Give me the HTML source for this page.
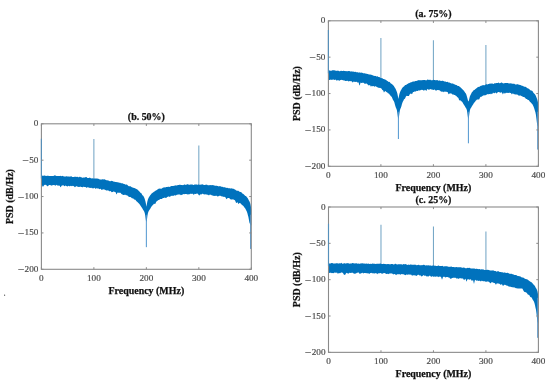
<!DOCTYPE html><html><head><meta charset="utf-8"><style>html,body{margin:0;padding:0;background:#fff;}svg{display:block;filter:blur(0.3px);}</style></head><body>
<svg width="550" height="384" viewBox="0 0 550 384">
<style>.tk{font-family:"Liberation Serif",serif;font-size:9.2px;fill:#4a4a4a;stroke:#4a4a4a;stroke-width:0.18px}.mn{font-size:11.8px;stroke-width:0.1px}.lb{font-family:"Liberation Serif",serif;font-size:9.95px;font-weight:bold;fill:#111;stroke:#111;stroke-width:0.25px}</style>
<rect width="550" height="384" fill="#fff"/>
<line x1="380.9" y1="38.11" x2="380.9" y2="80.88" stroke="#74a6c6" stroke-width="1.05"/>
<line x1="433.4" y1="40.15" x2="433.4" y2="82.94" stroke="#74a6c6" stroke-width="1.05"/>
<line x1="485.9" y1="44.95" x2="485.9" y2="87.45" stroke="#74a6c6" stroke-width="1.05"/>
<path d="M328.4,70.39 L328.9,70.35 L329.4,70.44 L329.9,70.57 L330.4,70.72 L330.9,70.83 L331.4,70.66 L331.9,70.46 L332.4,70.35 L332.9,70.23 L333.4,70.28 L333.9,70.27 L334.4,70.26 L334.9,70.52 L335.4,70.65 L335.9,70.53 L336.4,70.67 L336.9,70.92 L337.4,70.79 L337.9,70.58 L338.4,70.67 L338.9,71.04 L339.4,71.27 L339.9,71.14 L340.4,70.99 L340.9,70.77 L341.4,70.69 L341.9,70.96 L342.4,71.12 L342.9,70.98 L343.4,70.71 L343.9,70.69 L344.4,70.91 L344.9,70.97 L345.4,71.09 L345.9,71.31 L346.4,71.16 L346.9,71.08 L347.4,71.27 L347.9,71.21 L348.4,71.04 L348.9,71.02 L349.4,71.1 L349.9,71.33 L350.4,71.5 L350.9,71.51 L351.4,71.46 L351.9,71.26 L352.4,71.4 L352.9,71.68 L353.4,71.6 L353.9,71.7 L354.4,71.88 L354.9,71.78 L355.4,71.82 L355.9,72.02 L356.4,72.14 L356.9,72.17 L357.4,72.21 L357.9,72.37 L358.4,72.55 L358.9,72.7 L359.4,72.55 L359.9,72.36 L360.4,72.7 L360.9,72.82 L361.4,72.57 L361.9,72.74 L362.4,72.88 L362.9,72.83 L363.4,73.15 L363.9,73.45 L364.4,73.27 L364.9,73.2 L365.4,73.47 L365.9,73.64 L366.4,73.69 L366.9,73.8 L367.4,73.89 L367.9,73.97 L368.4,74.27 L368.9,74.47 L369.4,74.46 L369.9,74.5 L370.4,74.61 L370.9,74.73 L371.4,74.76 L371.9,74.92 L372.4,75.24 L372.9,75.35 L373.4,75.48 L373.9,75.88 L374.4,75.98 L374.9,75.83 L375.4,75.94 L375.9,76.11 L376.4,76.39 L376.9,76.42 L377.4,76.16 L377.9,76.46 L378.4,76.88 L378.9,76.88 L379.4,77.02 L379.9,77.48 L380.4,77.75 L380.9,77.94 L381.4,78.14 L381.9,78.11 L382.4,78.25 L382.9,78.64 L383.4,78.91 L383.9,79.05 L384.4,79.26 L384.9,79.56 L385.4,79.63 L385.9,79.69 L386.4,80.16 L386.9,80.69 L387.4,80.96 L387.9,81.23 L388.4,81.74 L388.9,81.95 L389.4,81.82 L389.9,82.28 L390.4,83.03 L390.9,83.46 L391.4,83.73 L391.9,84.04 L392.4,84.6 L392.9,85.12 L393.4,85.41 L393.9,86.01 L394.4,86.89 L394.9,87.79 L395.4,88.6 L395.9,89.59 L396.4,90.76 L396.9,92.02 L397.4,93.76 L397.9,96.18 L398.4,99.04 L398.9,96.34 L399.4,94.11 L399.9,92.53 L400.4,91.21 L400.9,90.22 L401.4,89.39 L401.9,88.42 L402.4,87.76 L402.9,87.28 L403.4,86.8 L403.9,86.43 L404.4,85.88 L404.9,85.28 L405.4,85.04 L405.9,84.95 L406.4,84.7 L406.9,84.3 L407.4,84.01 L407.9,83.75 L408.4,83.24 L408.9,83.14 L409.4,83.12 L409.9,82.77 L410.4,82.52 L410.9,82.31 L411.4,82.16 L411.9,81.95 L412.4,81.77 L412.9,81.61 L413.4,81.47 L413.9,81.53 L414.4,81.48 L414.9,81.19 L415.4,81.02 L415.9,81.06 L416.4,81.08 L416.9,80.85 L417.4,80.51 L417.9,80.43 L418.4,80.34 L418.9,80.11 L419.4,80.2 L419.9,80.34 L420.4,80.33 L420.9,80.22 L421.4,80.2 L421.9,80.2 L422.4,80.11 L422.9,80.17 L423.4,80.09 L423.9,79.9 L424.4,79.93 L424.9,80.05 L425.4,80.14 L425.9,80.16 L426.4,80.33 L426.9,80.19 L427.4,79.58 L427.9,79.46 L428.4,79.82 L428.9,80.1 L429.4,79.95 L429.9,79.54 L430.4,79.67 L430.9,80.17 L431.4,80.32 L431.9,80.2 L432.4,80.2 L432.9,80.09 L433.4,79.83 L433.9,79.88 L434.4,79.91 L434.9,79.95 L435.4,80.22 L435.9,80.3 L436.4,80.26 L436.9,80.09 L437.4,80.08 L437.9,80.49 L438.4,80.7 L438.9,80.62 L439.4,80.48 L439.9,80.52 L440.4,80.77 L440.9,80.93 L441.4,80.99 L441.9,80.8 L442.4,80.64 L442.9,80.79 L443.4,80.99 L443.9,81.24 L444.4,81.53 L444.9,81.61 L445.4,81.54 L445.9,81.67 L446.4,81.97 L446.9,82.01 L447.4,81.79 L447.9,81.98 L448.4,82.43 L448.9,82.6 L449.4,82.61 L449.9,82.73 L450.4,82.97 L450.9,83.27 L451.4,83.47 L451.9,83.42 L452.4,83.38 L452.9,83.51 L453.4,83.85 L453.9,84.24 L454.4,84.31 L454.9,84.44 L455.4,84.78 L455.9,84.98 L456.4,85.09 L456.9,85.37 L457.4,85.82 L457.9,86.12 L458.4,86.08 L458.9,86.12 L459.4,86.57 L459.9,86.99 L460.4,87.28 L460.9,87.82 L461.4,88.3 L461.9,88.69 L462.4,89.18 L462.9,89.77 L463.4,90.28 L463.9,90.72 L464.4,91.48 L464.9,92.34 L465.4,92.88 L465.9,93.49 L466.4,94.72 L466.9,96.42 L467.4,98.17 L467.9,100.16 L468.4,101.47 L468.9,100.48 L469.4,98.15 L469.9,96.3 L470.4,95.2 L470.9,94.22 L471.4,93.17 L471.9,92.37 L472.4,91.84 L472.9,91.27 L473.4,90.49 L473.9,90.09 L474.4,89.94 L474.9,89.49 L475.4,89.08 L475.9,88.73 L476.4,88.33 L476.9,87.89 L477.4,87.43 L477.9,87.1 L478.4,86.97 L478.9,86.85 L479.4,86.64 L479.9,86.43 L480.4,86.07 L480.9,85.82 L481.4,85.87 L481.9,85.6 L482.4,85.25 L482.9,85.24 L483.4,85.21 L483.9,85.12 L484.4,85.16 L484.9,85.13 L485.4,84.75 L485.9,84.36 L486.4,84.16 L486.9,84.2 L487.4,84.39 L487.9,84.3 L488.4,84.07 L488.9,83.94 L489.4,83.76 L489.9,83.53 L490.4,83.58 L490.9,83.71 L491.4,83.57 L491.9,83.48 L492.4,83.51 L492.9,83.67 L493.4,83.88 L493.9,83.67 L494.4,83.32 L494.9,83.16 L495.4,83.16 L495.9,83.25 L496.4,83.11 L496.9,82.95 L497.4,83.03 L497.9,82.9 L498.4,82.56 L498.9,82.72 L499.4,83.22 L499.9,83.24 L500.4,82.94 L500.9,82.66 L501.4,82.48 L501.9,82.61 L502.4,82.91 L502.9,83.24 L503.4,83.4 L503.9,83.37 L504.4,83.21 L504.9,83.11 L505.4,83.11 L505.9,82.99 L506.4,82.94 L506.9,83.01 L507.4,82.98 L507.9,82.97 L508.4,83.2 L508.9,83.43 L509.4,83.41 L509.9,83.33 L510.4,83.29 L510.9,83.39 L511.4,83.51 L511.9,83.52 L512.4,83.69 L512.9,83.8 L513.4,83.7 L513.9,83.72 L514.4,83.85 L514.9,84.18 L515.4,84.56 L515.9,84.62 L516.4,84.42 L516.9,84.29 L517.4,84.22 L517.9,84.26 L518.4,84.58 L518.9,84.74 L519.4,84.85 L519.9,85.06 L520.4,85.07 L520.9,85.14 L521.4,85.47 L521.9,85.78 L522.4,85.84 L522.9,86.02 L523.4,86.36 L523.9,86.59 L524.4,86.82 L524.9,86.81 L525.4,86.73 L525.9,86.89 L526.4,87.29 L526.9,87.93 L527.4,88.33 L527.9,88.36 L528.4,88.56 L528.9,88.99 L529.4,89.32 L529.9,89.68 L530.4,90.19 L530.9,90.44 L531.4,90.57 L531.9,90.71 L532.4,91.08 L532.9,91.84 L533.4,92.64 L533.9,93.31 L534.4,93.73 L534.9,94.25 L535.4,95.06 L535.9,96 L536.4,97.15 L536.9,98.44 L537.4,99.94 L537.9,102.12 L538.4,105.06 L538.4,127.02 L537.9,126.24 L537.4,125.16 L536.9,122.65 L536.4,118.56 L535.9,114.7 L535.4,112.24 L534.9,110.67 L534.4,109.05 L533.9,107.39 L533.4,106.16 L532.9,105.13 L532.4,104.33 L531.9,103.81 L531.4,103.24 L530.9,102.55 L530.4,102.16 L529.9,101.79 L529.4,100.93 L528.9,100.21 L528.4,100.12 L527.9,100.05 L527.4,99.43 L526.9,98.96 L526.4,98.94 L525.9,98.71 L525.4,98.17 L524.9,97.61 L524.4,97.29 L523.9,97.05 L523.4,96.89 L522.9,96.81 L522.4,96.59 L521.9,96.29 L521.4,96.03 L520.9,95.85 L520.4,95.52 L519.9,95.29 L519.4,95.68 L518.9,95.96 L518.4,95.28 L517.9,94.83 L517.4,94.85 L516.9,94.61 L516.4,94.57 L515.9,94.57 L515.4,94.39 L514.9,94.3 L514.4,94.28 L513.9,94.17 L513.4,93.87 L512.9,93.37 L512.4,93.76 L511.9,94.46 L511.4,93.74 L510.9,92.96 L510.4,92.9 L509.9,92.77 L509.4,92.65 L508.9,92.83 L508.4,93.11 L507.9,92.9 L507.4,92.75 L506.9,92.88 L506.4,92.84 L505.9,92.83 L505.4,93.14 L504.9,93.64 L504.4,93.36 L503.9,92.55 L503.4,93.44 L502.9,94.58 L502.4,93.44 L501.9,92.45 L501.4,92.35 L500.9,92.56 L500.4,92.85 L499.9,92.45 L499.4,92.15 L498.9,92.02 L498.4,92.03 L497.9,92.25 L497.4,92.49 L496.9,93.2 L496.4,93.47 L495.9,92.76 L495.4,92.6 L494.9,93.11 L494.4,93.36 L493.9,93.16 L493.4,92.74 L492.9,92.71 L492.4,93.64 L491.9,94.31 L491.4,93.63 L490.9,93.52 L490.4,94.17 L489.9,94.08 L489.4,94.02 L488.9,94.27 L488.4,94.19 L487.9,94.11 L487.4,94.24 L486.9,94.39 L486.4,94.66 L485.9,95 L485.4,95.28 L484.9,95.46 L484.4,95.35 L483.9,95.34 L483.4,95.61 L482.9,95.66 L482.4,96.01 L481.9,96.56 L481.4,96.71 L480.9,96.76 L480.4,97.05 L479.9,97.79 L479.4,99.03 L478.9,99.69 L478.4,99.36 L477.9,99.48 L477.4,99.59 L476.9,99.59 L476.4,100.13 L475.9,100.6 L475.4,101.2 L474.9,101.9 L474.4,102.43 L473.9,103.08 L473.4,103.89 L472.9,104.71 L472.4,105.51 L471.9,106.32 L471.4,107.13 L470.9,107.94 L470.4,108.75 L469.9,110.32 L469.4,113.44 L468.9,117.32 L468.4,119.25 L467.9,117.31 L467.4,113.43 L466.9,110.32 L466.4,108.75 L465.9,107.94 L465.4,107.13 L464.9,106.32 L464.4,105.51 L463.9,104.7 L463.4,103.9 L462.9,103.09 L462.4,102.27 L461.9,101.45 L461.4,101.26 L460.9,101.19 L460.4,100.16 L459.9,100.1 L459.4,100.63 L458.9,99.4 L458.4,97.95 L457.9,97.44 L457.4,97.2 L456.9,96.73 L456.4,96.12 L455.9,95.76 L455.4,95.42 L454.9,95.08 L454.4,94.95 L453.9,94.78 L453.4,94.46 L452.9,94.49 L452.4,94.58 L451.9,94.02 L451.4,93.44 L450.9,93.28 L450.4,93.47 L449.9,93.56 L449.4,93.62 L448.9,94.29 L448.4,93.98 L447.9,92.57 L447.4,92.01 L446.9,92.01 L446.4,91.81 L445.9,91.6 L445.4,91.78 L444.9,91.98 L444.4,91.43 L443.9,91.45 L443.4,92.21 L442.9,92.05 L442.4,91.43 L441.9,91.4 L441.4,91.64 L440.9,91.5 L440.4,91.04 L439.9,90.5 L439.4,90.23 L438.9,90.17 L438.4,90.06 L437.9,89.89 L437.4,89.95 L436.9,90.18 L436.4,90.56 L435.9,90.84 L435.4,90.37 L434.9,89.86 L434.4,89.62 L433.9,89.68 L433.4,90.05 L432.9,89.99 L432.4,89.55 L431.9,89.53 L431.4,89.56 L430.9,89.17 L430.4,89.05 L429.9,89.38 L429.4,89.53 L428.9,89.55 L428.4,89.67 L427.9,89.34 L427.4,88.95 L426.9,89.87 L426.4,90.9 L425.9,90.45 L425.4,89.9 L424.9,89.67 L424.4,90.28 L423.9,91.1 L423.4,90.28 L422.9,89.71 L422.4,90.07 L421.9,90.02 L421.4,89.85 L420.9,90.06 L420.4,90.35 L419.9,90.5 L419.4,90.48 L418.9,90.35 L418.4,90.5 L417.9,90.88 L417.4,90.92 L416.9,90.73 L416.4,91.02 L415.9,91.57 L415.4,91.61 L414.9,91.43 L414.4,91.62 L413.9,91.89 L413.4,91.97 L412.9,92.26 L412.4,93.45 L411.9,94.32 L411.4,93.78 L410.9,93.45 L410.4,93.79 L409.9,94.09 L409.4,95.03 L408.9,96 L408.4,95.94 L407.9,96.03 L407.4,96.02 L406.9,95.82 L406.4,96.04 L405.9,96.56 L405.4,97.75 L404.9,98.76 L404.4,98.93 L403.9,99.48 L403.4,100.63 L402.9,101.61 L402.4,102.74 L401.9,104.36 L401.4,106.19 L400.9,107.72 L400.4,108.75 L399.9,110.32 L399.4,113.44 L398.9,117.32 L398.4,119.25 L397.9,117.31 L397.4,113.43 L396.9,110.32 L396.4,108.75 L395.9,107.66 L395.4,106.17 L394.9,104.4 L394.4,102.48 L393.9,101.24 L393.4,100.57 L392.9,99.67 L392.4,98.5 L391.9,97.21 L391.4,96.55 L390.9,96.22 L390.4,95.54 L389.9,94.93 L389.4,94.16 L388.9,93.54 L388.4,93.5 L387.9,93.17 L387.4,92.48 L386.9,92.26 L386.4,92.1 L385.9,91.41 L385.4,91.1 L384.9,91.26 L384.4,91.94 L383.9,92.42 L383.4,91.02 L382.9,90.1 L382.4,90.22 L381.9,89.35 L381.4,88.6 L380.9,88.36 L380.4,87.99 L379.9,87.84 L379.4,87.92 L378.9,87.84 L378.4,87.68 L377.9,87.56 L377.4,87.37 L376.9,87.05 L376.4,86.63 L375.9,86.26 L375.4,86.21 L374.9,86.57 L374.4,86.71 L373.9,86.31 L373.4,86.01 L372.9,86.24 L372.4,86.24 L371.9,85.68 L371.4,86.25 L370.9,86.82 L370.4,85.65 L369.9,84.88 L369.4,85.31 L368.9,85.57 L368.4,85.18 L367.9,84.82 L367.4,84.37 L366.9,83.8 L366.4,83.54 L365.9,83.42 L365.4,83.75 L364.9,84.04 L364.4,83.56 L363.9,82.98 L363.4,82.74 L362.9,82.73 L362.4,82.83 L361.9,82.97 L361.4,82.99 L360.9,82.59 L360.4,82.97 L359.9,84.89 L359.4,85.41 L358.9,83.5 L358.4,82.34 L357.9,82.5 L357.4,82.38 L356.9,81.94 L356.4,81.81 L355.9,81.86 L355.4,81.96 L354.9,82.12 L354.4,81.85 L353.9,81.46 L353.4,81.86 L352.9,82.49 L352.4,82.16 L351.9,81.54 L351.4,81.2 L350.9,81.06 L350.4,81.18 L349.9,81.16 L349.4,80.99 L348.9,81.25 L348.4,81.51 L347.9,81.03 L347.4,80.69 L346.9,80.81 L346.4,80.92 L345.9,80.93 L345.4,80.97 L344.9,80.8 L344.4,80.42 L343.9,80.29 L343.4,80.38 L342.9,80.36 L342.4,80.09 L341.9,79.9 L341.4,79.87 L340.9,79.92 L340.4,80.03 L339.9,80.42 L339.4,80.75 L338.9,80.47 L338.4,80.27 L337.9,80.17 L337.4,80.16 L336.9,80.52 L336.4,80.58 L335.9,80.04 L335.4,79.6 L334.9,79.77 L334.4,79.95 L333.9,79.64 L333.4,79.47 L332.9,79.57 L332.4,79.82 L331.9,80.04 L331.4,79.72 L330.9,79.52 L330.4,79.78 L329.9,80.07 L329.4,80.07 L328.9,79.77 L328.4,79.7Z" fill="#0072BD"/>
<line x1="398.4" y1="111.74" x2="398.4" y2="139.02" stroke="#4f95cf" stroke-width="1"/>
<line x1="468.4" y1="111.74" x2="468.4" y2="143.31" stroke="#4f95cf" stroke-width="1"/>
<line x1="537.7" y1="111.74" x2="537.7" y2="149.57" stroke="#4f95cf" stroke-width="1"/>
<rect x="328.4" y="20.8" width="210" height="145.5" fill="none" stroke="#8a8a8a" stroke-width="1.1"/>
<line x1="328.4" y1="29.89" x2="328.4" y2="73.33" stroke="#5590bb" stroke-width="1.1"/>
<path d="M328.4,166.3v-2.1M328.4,20.8v2.1M328.4,20.8h2.1M538.4,20.8h-2.1M380.9,166.3v-2.1M380.9,20.8v2.1M328.4,57.17h2.1M538.4,57.17h-2.1M433.4,166.3v-2.1M433.4,20.8v2.1M328.4,93.55h2.1M538.4,93.55h-2.1M485.9,166.3v-2.1M485.9,20.8v2.1M328.4,129.93h2.1M538.4,129.93h-2.1M538.4,166.3v-2.1M538.4,20.8v2.1M328.4,166.3h2.1M538.4,166.3h-2.1" stroke="#8a8a8a" stroke-width="1" fill="none"/>
<text x="328.4" y="177.5" text-anchor="middle" class="tk">0</text>
<text x="325.4" y="23.3" text-anchor="end" class="tk">0</text>
<text x="380.9" y="177.5" text-anchor="middle" class="tk">100</text>
<text x="325.4" y="59.67" text-anchor="end" class="tk"><tspan class="mn" dy="1.5">&#8722;</tspan><tspan dx="0.3" dy="-1.5">50</tspan></text>
<text x="433.4" y="177.5" text-anchor="middle" class="tk">200</text>
<text x="325.4" y="96.05" text-anchor="end" class="tk"><tspan class="mn" dy="1.5">&#8722;</tspan><tspan dx="0.3" dy="-1.5">100</tspan></text>
<text x="485.9" y="177.5" text-anchor="middle" class="tk">300</text>
<text x="325.4" y="132.43" text-anchor="end" class="tk"><tspan class="mn" dy="1.5">&#8722;</tspan><tspan dx="0.3" dy="-1.5">150</tspan></text>
<text x="538.4" y="177.5" text-anchor="middle" class="tk">400</text>
<text x="325.4" y="168.8" text-anchor="end" class="tk"><tspan class="mn" dy="1.5">&#8722;</tspan><tspan dx="0.3" dy="-1.5">200</tspan></text>
<text x="433.4" y="190.5" text-anchor="middle" class="lb">Frequency (MHz)</text>
<text transform="translate(299.9,93.55) rotate(-90)" text-anchor="middle" class="lb">PSD (dB/Hz)</text>
<text x="433.4" y="16.9" text-anchor="middle" class="lb">(a. 75%)</text>
<line x1="93.88" y1="139.08" x2="93.88" y2="181.33" stroke="#74a6c6" stroke-width="1.05"/>
<line x1="198.83" y1="145.62" x2="198.83" y2="187.41" stroke="#74a6c6" stroke-width="1.05"/>
<path d="M41.4,176.5 L41.9,176.03 L42.4,175.71 L42.9,175.55 L43.4,175.64 L43.9,175.81 L44.4,175.58 L44.9,175.44 L45.4,175.67 L45.9,175.93 L46.4,175.95 L46.9,175.78 L47.4,175.71 L47.9,175.72 L48.4,175.83 L48.9,176.01 L49.4,176.05 L49.9,176.08 L50.4,176.11 L50.9,176.02 L51.4,175.99 L51.9,176.05 L52.4,175.99 L52.9,175.96 L53.4,175.88 L53.9,175.65 L54.4,175.45 L54.9,175.37 L55.4,175.52 L55.9,175.8 L56.4,175.98 L56.9,175.97 L57.4,175.9 L57.9,175.96 L58.4,175.99 L58.9,175.91 L59.4,175.99 L59.9,175.97 L60.4,175.84 L60.9,176.01 L61.4,176.19 L61.9,176.08 L62.4,175.88 L62.9,175.85 L63.4,176.15 L63.9,176.5 L64.4,176.53 L64.9,176.42 L65.4,176.45 L65.9,176.4 L66.4,176.21 L66.9,176.21 L67.4,176.38 L67.9,176.38 L68.4,176.43 L68.9,176.52 L69.4,176.54 L69.9,176.67 L70.4,176.56 L70.9,176.22 L71.4,176.27 L71.9,176.65 L72.4,176.95 L72.9,177.07 L73.4,177.05 L73.9,176.98 L74.4,176.86 L74.9,176.68 L75.4,176.65 L75.9,176.84 L76.4,176.94 L76.9,176.82 L77.4,176.75 L77.9,177.01 L78.4,177.36 L78.9,177.37 L79.4,176.9 L79.9,176.6 L80.4,176.95 L80.9,177.19 L81.4,177.18 L81.9,177.41 L82.4,177.66 L82.9,177.65 L83.4,177.5 L83.9,177.39 L84.4,177.4 L84.9,177.47 L85.4,177.31 L85.9,177.07 L86.4,177.1 L86.9,177.54 L87.4,178 L87.9,177.98 L88.4,177.96 L88.9,177.98 L89.4,177.71 L89.9,177.62 L90.4,177.97 L90.9,178.33 L91.4,178.42 L91.9,178.32 L92.4,178.33 L92.9,178.52 L93.4,178.5 L93.9,178.43 L94.4,178.53 L94.9,178.61 L95.4,178.59 L95.9,178.56 L96.4,178.45 L96.9,178.42 L97.4,178.57 L97.9,178.68 L98.4,178.69 L98.9,178.96 L99.4,179.3 L99.9,179.39 L100.4,179.53 L100.9,179.55 L101.4,179.52 L101.9,179.55 L102.4,179.25 L102.9,179.25 L103.4,179.48 L103.9,179.25 L104.4,179.21 L104.9,179.57 L105.4,179.81 L105.9,180.01 L106.4,180.23 L106.9,180.25 L107.4,180.27 L107.9,180.43 L108.4,180.58 L108.9,180.71 L109.4,180.96 L109.9,181.19 L110.4,181.17 L110.9,180.95 L111.4,180.84 L111.9,180.88 L112.4,180.91 L112.9,181.19 L113.4,181.58 L113.9,181.71 L114.4,181.73 L114.9,181.83 L115.4,181.93 L115.9,181.98 L116.4,182.09 L116.9,182.18 L117.4,182.16 L117.9,182.3 L118.4,182.38 L118.9,182.49 L119.4,182.7 L119.9,182.66 L120.4,182.81 L120.9,183.17 L121.4,183.26 L121.9,183.22 L122.4,183.32 L122.9,183.5 L123.4,183.69 L123.9,183.93 L124.4,184.11 L124.9,184.26 L125.4,184.52 L125.9,184.69 L126.4,184.5 L126.9,184.49 L127.4,185.03 L127.9,185.59 L128.4,186.03 L128.9,186.32 L129.4,186.27 L129.9,186.2 L130.4,186.24 L130.9,186.44 L131.4,186.89 L131.9,187.28 L132.4,187.44 L132.9,187.59 L133.4,187.82 L133.9,187.91 L134.4,187.93 L134.9,188.16 L135.4,188.4 L135.9,188.68 L136.4,189.1 L136.9,189.34 L137.4,189.52 L137.9,190 L138.4,190.58 L138.9,191.12 L139.4,191.5 L139.9,191.98 L140.4,192.7 L140.9,193.03 L141.4,193.36 L141.9,194.33 L142.4,195.26 L142.9,195.61 L143.4,196.01 L143.9,196.95 L144.4,198.1 L144.9,199.45 L145.4,201.21 L145.9,203.62 L146.4,206.79 L146.9,203.67 L147.4,201.33 L147.9,199.57 L148.4,198.28 L148.9,197.36 L149.4,196.48 L149.9,195.64 L150.4,195.12 L150.9,194.55 L151.4,193.81 L151.9,193.31 L152.4,192.98 L152.9,192.58 L153.4,192.13 L153.9,191.86 L154.4,191.6 L154.9,191.15 L155.4,190.86 L155.9,190.62 L156.4,190.25 L156.9,189.92 L157.4,189.51 L157.9,189.21 L158.4,188.88 L158.9,188.52 L159.4,188.6 L159.9,188.78 L160.4,188.66 L160.9,188.59 L161.4,188.66 L161.9,188.41 L162.4,188.09 L162.9,187.84 L163.4,187.6 L163.9,187.5 L164.4,187.37 L164.9,187.4 L165.4,187.4 L165.9,187.1 L166.4,186.88 L166.9,186.89 L167.4,186.89 L167.9,186.72 L168.4,186.66 L168.9,186.87 L169.4,186.95 L169.9,186.73 L170.4,186.44 L170.9,186.15 L171.4,185.95 L171.9,185.96 L172.4,185.98 L172.9,186.04 L173.4,186.05 L173.9,185.86 L174.4,185.74 L174.9,185.58 L175.4,185.38 L175.9,185.29 L176.4,185.48 L176.9,185.62 L177.4,185.32 L177.9,185.05 L178.4,185.12 L178.9,185.12 L179.4,184.86 L179.9,184.68 L180.4,184.8 L180.9,184.97 L181.4,185.08 L181.9,185.12 L182.4,185.12 L182.9,185.16 L183.4,185.01 L183.9,184.72 L184.4,184.5 L184.9,184.56 L185.4,184.84 L185.9,184.93 L186.4,184.7 L186.9,184.36 L187.4,184.32 L187.9,184.35 L188.4,184.51 L188.9,184.83 L189.4,184.82 L189.9,184.69 L190.4,184.61 L190.9,184.43 L191.4,184.4 L191.9,184.42 L192.4,184.46 L192.9,184.83 L193.4,185.06 L193.9,184.89 L194.4,184.61 L194.9,184.51 L195.4,184.54 L195.9,184.4 L196.4,184.38 L196.9,184.55 L197.4,184.69 L197.9,184.66 L198.4,184.53 L198.9,184.6 L199.4,184.69 L199.9,184.76 L200.4,184.68 L200.9,184.43 L201.4,184.49 L201.9,184.47 L202.4,184.37 L202.9,184.53 L203.4,184.66 L203.9,184.88 L204.4,185.08 L204.9,185 L205.4,184.87 L205.9,184.83 L206.4,184.66 L206.9,184.55 L207.4,184.97 L207.9,185.31 L208.4,185.19 L208.9,185.19 L209.4,185.25 L209.9,185.1 L210.4,185.04 L210.9,185.13 L211.4,185.16 L211.9,185.01 L212.4,184.92 L212.9,185.17 L213.4,185.25 L213.9,185.22 L214.4,185.54 L214.9,185.76 L215.4,185.73 L215.9,185.7 L216.4,185.64 L216.9,185.7 L217.4,185.88 L217.9,186.02 L218.4,186.22 L218.9,186.38 L219.4,186.23 L219.9,186.07 L220.4,186.14 L220.9,186.52 L221.4,186.85 L221.9,186.77 L222.4,186.82 L222.9,186.99 L223.4,187.16 L223.9,187.35 L224.4,187.27 L224.9,187.17 L225.4,187.38 L225.9,187.67 L226.4,187.86 L226.9,187.97 L227.4,187.85 L227.9,187.91 L228.4,188.22 L228.9,188.29 L229.4,188.27 L229.9,188.31 L230.4,188.43 L230.9,188.48 L231.4,188.37 L231.9,188.49 L232.4,188.65 L232.9,188.62 L233.4,188.8 L233.9,189.08 L234.4,189.27 L234.9,189.5 L235.4,189.8 L235.9,190.16 L236.4,190.46 L236.9,190.65 L237.4,190.8 L237.9,190.72 L238.4,190.8 L238.9,191.32 L239.4,191.63 L239.9,191.77 L240.4,191.99 L240.9,192.08 L241.4,192.34 L241.9,193.01 L242.4,193.48 L242.9,193.69 L243.4,194.11 L243.9,194.51 L244.4,195.02 L244.9,195.62 L245.4,195.88 L245.9,196.11 L246.4,196.62 L246.9,197.19 L247.4,197.69 L247.9,198.5 L248.4,199.51 L248.9,200.39 L249.4,201.36 L249.9,202.48 L250.4,204.09 L250.9,206.58 L251.4,209.64 L251.4,225.52 L250.9,225.08 L250.4,224.5 L249.9,223.87 L249.4,222.52 L248.9,219.8 L248.4,217.09 L247.9,215.19 L247.4,213.27 L246.9,211.71 L246.4,210.7 L245.9,209.73 L245.4,208.82 L244.9,207.99 L244.4,207.38 L243.9,206.76 L243.4,205.96 L242.9,205.48 L242.4,205.36 L241.9,205.02 L241.4,204.33 L240.9,203.74 L240.4,203.34 L239.9,203.01 L239.4,203.03 L238.9,203.81 L238.4,204.11 L237.9,202.81 L237.4,202.24 L236.9,202.87 L236.4,202.99 L235.9,202.4 L235.4,201.18 L234.9,200.34 L234.4,199.96 L233.9,199.66 L233.4,199.48 L232.9,199.33 L232.4,199.51 L231.9,199.54 L231.4,199.4 L230.9,199.42 L230.4,199.2 L229.9,198.84 L229.4,198.35 L228.9,198.02 L228.4,197.92 L227.9,198.04 L227.4,198.24 L226.9,198.77 L226.4,199.17 L225.9,198.2 L225.4,197.2 L224.9,196.96 L224.4,196.84 L223.9,196.88 L223.4,196.82 L222.9,196.43 L222.4,196.38 L221.9,196.55 L221.4,196.29 L220.9,196.02 L220.4,195.86 L219.9,195.74 L219.4,195.87 L218.9,196.12 L218.4,196.27 L217.9,196.54 L217.4,196.44 L216.9,195.85 L216.4,195.84 L215.9,196.11 L215.4,195.76 L214.9,195.75 L214.4,196.06 L213.9,195.94 L213.4,195.85 L212.9,195.54 L212.4,195.45 L211.9,195.44 L211.4,194.99 L210.9,194.8 L210.4,194.66 L209.9,194.53 L209.4,195.12 L208.9,195.6 L208.4,195.06 L207.9,194.87 L207.4,194.84 L206.9,194.47 L206.4,194.56 L205.9,194.59 L205.4,194.29 L204.9,194.31 L204.4,194.55 L203.9,194.4 L203.4,194.04 L202.9,193.81 L202.4,193.79 L201.9,194.07 L201.4,194.4 L200.9,194.48 L200.4,194.21 L199.9,194.65 L199.4,195.62 L198.9,195.28 L198.4,194.44 L197.9,193.95 L197.4,193.56 L196.9,193.45 L196.4,193.68 L195.9,194.06 L195.4,194.02 L194.9,193.65 L194.4,194.11 L193.9,194.88 L193.4,194.48 L192.9,193.83 L192.4,193.79 L191.9,193.88 L191.4,193.76 L190.9,193.66 L190.4,193.79 L189.9,193.96 L189.4,194.3 L188.9,194.51 L188.4,194.27 L187.9,194.24 L187.4,194.48 L186.9,194.36 L186.4,194.09 L185.9,194.09 L185.4,194.12 L184.9,194.03 L184.4,194.16 L183.9,194.27 L183.4,194.1 L182.9,194.19 L182.4,194.65 L181.9,194.8 L181.4,194.95 L180.9,195.19 L180.4,194.79 L179.9,194.44 L179.4,194.53 L178.9,194.52 L178.4,194.55 L177.9,194.6 L177.4,194.63 L176.9,194.74 L176.4,195.03 L175.9,195.49 L175.4,195.5 L174.9,195.24 L174.4,195.32 L173.9,195.66 L173.4,195.76 L172.9,195.65 L172.4,195.85 L171.9,196.02 L171.4,195.72 L170.9,195.71 L170.4,196.46 L169.9,196.97 L169.4,196.66 L168.9,196.31 L168.4,196.62 L167.9,196.99 L167.4,196.73 L166.9,197.1 L166.4,197.98 L165.9,197.98 L165.4,197.76 L164.9,197.63 L164.4,197.61 L163.9,197.89 L163.4,198.08 L162.9,198.06 L162.4,198.46 L161.9,198.99 L161.4,199.07 L160.9,199.1 L160.4,199.09 L159.9,199.35 L159.4,199.78 L158.9,199.89 L158.4,200.12 L157.9,200.44 L157.4,200.79 L156.9,201.28 L156.4,201.59 L155.9,202.51 L155.4,203.84 L154.9,204.06 L154.4,203.71 L153.9,203.84 L153.4,204.42 L152.9,205.04 L152.4,205.46 L151.9,206.03 L151.4,206.82 L150.9,207.62 L150.4,208.43 L149.9,209.24 L149.4,210.05 L148.9,210.86 L148.4,211.67 L147.9,213.17 L147.4,216.12 L146.9,219.93 L146.4,222.06 L145.9,220.51 L145.4,216.82 L144.9,213.63 L144.4,211.9 L143.9,211.02 L143.4,210.21 L142.9,209.4 L142.4,208.59 L141.9,207.79 L141.4,206.98 L140.9,206.17 L140.4,205.41 L139.9,204.69 L139.4,204.07 L138.9,203.52 L138.4,203.02 L137.9,202.61 L137.4,201.98 L136.9,201.62 L136.4,201.36 L135.9,200.52 L135.4,199.83 L134.9,199.7 L134.4,199.62 L133.9,199.13 L133.4,198.6 L132.9,198.47 L132.4,198.35 L131.9,198.16 L131.4,197.81 L130.9,197.33 L130.4,197.04 L129.9,196.91 L129.4,196.91 L128.9,196.77 L128.4,196.4 L127.9,196.02 L127.4,195.58 L126.9,195.29 L126.4,195.31 L125.9,195.19 L125.4,194.73 L124.9,194.61 L124.4,194.95 L123.9,195.06 L123.4,194.93 L122.9,194.72 L122.4,194.38 L121.9,194.24 L121.4,194.01 L120.9,193.31 L120.4,192.84 L119.9,192.82 L119.4,192.85 L118.9,192.82 L118.4,192.66 L117.9,192.59 L117.4,192.76 L116.9,193.76 L116.4,194.38 L115.9,193.02 L115.4,192.05 L114.9,192.01 L114.4,191.71 L113.9,191.41 L113.4,191.62 L112.9,191.93 L112.4,191.94 L111.9,192.19 L111.4,191.93 L110.9,191.21 L110.4,191.01 L109.9,191.23 L109.4,191.34 L108.9,190.98 L108.4,190.38 L107.9,190.33 L107.4,190.52 L106.9,190.45 L106.4,190.42 L105.9,190.14 L105.4,189.88 L104.9,189.69 L104.4,189.56 L103.9,189.53 L103.4,189.37 L102.9,189.42 L102.4,189.62 L101.9,189.88 L101.4,189.65 L100.9,188.9 L100.4,188.66 L99.9,189.07 L99.4,189.23 L98.9,188.81 L98.4,188.48 L97.9,188.48 L97.4,188.46 L96.9,188.26 L96.4,188.33 L95.9,188.74 L95.4,188.77 L94.9,188.3 L94.4,187.83 L93.9,187.99 L93.4,188.41 L92.9,188.36 L92.4,188.29 L91.9,188.28 L91.4,187.87 L90.9,187.63 L90.4,187.95 L89.9,187.99 L89.4,187.69 L88.9,187.59 L88.4,187.47 L87.9,187.31 L87.4,187.34 L86.9,187.64 L86.4,187.67 L85.9,187.25 L85.4,186.91 L84.9,186.9 L84.4,186.97 L83.9,186.76 L83.4,186.78 L82.9,187.19 L82.4,187.14 L81.9,186.94 L81.4,187.03 L80.9,186.91 L80.4,186.61 L79.9,186.7 L79.4,187.02 L78.9,186.86 L78.4,186.88 L77.9,187.02 L77.4,186.6 L76.9,186.37 L76.4,186.25 L75.9,186.22 L75.4,186.93 L74.9,187.21 L74.4,186.64 L73.9,186.34 L73.4,186.05 L72.9,185.87 L72.4,186.12 L71.9,186.19 L71.4,185.99 L70.9,185.8 L70.4,185.89 L69.9,186.16 L69.4,186.21 L68.9,185.91 L68.4,185.77 L67.9,186.2 L67.4,186.58 L66.9,186.37 L66.4,185.97 L65.9,185.66 L65.4,185.56 L64.9,185.91 L64.4,186.22 L63.9,185.65 L63.4,185.2 L62.9,185.31 L62.4,185.44 L61.9,185.59 L61.4,186.09 L60.9,187.09 L60.4,187.2 L59.9,186.12 L59.4,185.61 L58.9,185.73 L58.4,185.48 L57.9,185.42 L57.4,185.56 L56.9,185.15 L56.4,184.87 L55.9,185.3 L55.4,185.74 L54.9,185.44 L54.4,185.08 L53.9,185.04 L53.4,185.05 L52.9,185.2 L52.4,185.19 L51.9,185.31 L51.4,185.66 L50.9,185.46 L50.4,185 L49.9,184.98 L49.4,185.01 L48.9,185.11 L48.4,185.72 L47.9,186.31 L47.4,186.23 L46.9,185.74 L46.4,185.34 L45.9,185.01 L45.4,184.73 L44.9,184.73 L44.4,185.01 L43.9,185.38 L43.4,186.24 L42.9,186.89 L42.4,186.06 L41.9,185.2 L41.4,185.11Z" fill="#0072BD"/>
<line x1="146.35" y1="214.74" x2="146.35" y2="247.18" stroke="#4f95cf" stroke-width="1"/>
<line x1="250.6" y1="214.74" x2="250.6" y2="248.93" stroke="#4f95cf" stroke-width="1"/>
<rect x="41.4" y="123.8" width="209.9" height="145.5" fill="none" stroke="#8a8a8a" stroke-width="1.1"/>
<line x1="41.4" y1="138.71" x2="41.4" y2="178.58" stroke="#5590bb" stroke-width="1.1"/>
<path d="M41.4,269.3v-2.1M41.4,123.8v2.1M41.4,123.8h2.1M251.3,123.8h-2.1M93.88,269.3v-2.1M93.88,123.8v2.1M41.4,160.18h2.1M251.3,160.18h-2.1M146.35,269.3v-2.1M146.35,123.8v2.1M41.4,196.55h2.1M251.3,196.55h-2.1M198.83,269.3v-2.1M198.83,123.8v2.1M41.4,232.93h2.1M251.3,232.93h-2.1M251.3,269.3v-2.1M251.3,123.8v2.1M41.4,269.3h2.1M251.3,269.3h-2.1" stroke="#8a8a8a" stroke-width="1" fill="none"/>
<text x="41.4" y="280.5" text-anchor="middle" class="tk">0</text>
<text x="38.4" y="126.3" text-anchor="end" class="tk">0</text>
<text x="93.88" y="280.5" text-anchor="middle" class="tk">100</text>
<text x="38.4" y="162.68" text-anchor="end" class="tk"><tspan class="mn" dy="1.5">&#8722;</tspan><tspan dx="0.3" dy="-1.5">50</tspan></text>
<text x="146.35" y="280.5" text-anchor="middle" class="tk">200</text>
<text x="38.4" y="199.05" text-anchor="end" class="tk"><tspan class="mn" dy="1.5">&#8722;</tspan><tspan dx="0.3" dy="-1.5">100</tspan></text>
<text x="198.83" y="280.5" text-anchor="middle" class="tk">300</text>
<text x="38.4" y="235.43" text-anchor="end" class="tk"><tspan class="mn" dy="1.5">&#8722;</tspan><tspan dx="0.3" dy="-1.5">150</tspan></text>
<text x="251.3" y="280.5" text-anchor="middle" class="tk">400</text>
<text x="38.4" y="271.8" text-anchor="end" class="tk"><tspan class="mn" dy="1.5">&#8722;</tspan><tspan dx="0.3" dy="-1.5">200</tspan></text>
<text x="146.35" y="293.5" text-anchor="middle" class="lb">Frequency (MHz)</text>
<text transform="translate(12.9,196.55) rotate(-90)" text-anchor="middle" class="lb">PSD (dB/Hz)</text>
<text x="146.35" y="119.9" text-anchor="middle" class="lb">(b. 50%)</text>
<line x1="380.98" y1="224.81" x2="380.98" y2="266.72" stroke="#74a6c6" stroke-width="1.05"/>
<line x1="433.45" y1="226.48" x2="433.45" y2="268.59" stroke="#74a6c6" stroke-width="1.05"/>
<line x1="485.92" y1="231.56" x2="485.92" y2="272.79" stroke="#74a6c6" stroke-width="1.05"/>
<path d="M328.5,263.68 L329,263.58 L329.5,263.42 L330,263.55 L330.5,263.62 L331,263.37 L331.5,263.09 L332,262.93 L332.5,263.05 L333,263.42 L333.5,263.55 L334,263.52 L334.5,263.45 L335,263.39 L335.5,263.41 L336,263.35 L336.5,263.31 L337,263.21 L337.5,263.25 L338,263.4 L338.5,263.51 L339,263.6 L339.5,263.26 L340,263.18 L340.5,263.38 L341,262.97 L341.5,262.83 L342,263.43 L342.5,263.87 L343,263.79 L343.5,263.45 L344,263.3 L344.5,263.28 L345,263.28 L345.5,263.61 L346,263.74 L346.5,263.23 L347,262.94 L347.5,263.14 L348,263.29 L348.5,263.24 L349,263.38 L349.5,263.64 L350,263.52 L350.5,263.4 L351,263.52 L351.5,263.52 L352,263.29 L352.5,263.08 L353,263.06 L353.5,263.24 L354,263.52 L354.5,263.43 L355,263.27 L355.5,263.38 L356,263.29 L356.5,263.25 L357,263.58 L357.5,263.69 L358,263.54 L358.5,263.59 L359,263.69 L359.5,263.74 L360,263.73 L360.5,263.52 L361,263.35 L361.5,263.41 L362,263.35 L362.5,263.35 L363,263.51 L363.5,263.46 L364,263.43 L364.5,263.6 L365,263.78 L365.5,263.78 L366,263.59 L366.5,263.52 L367,263.75 L367.5,263.85 L368,263.64 L368.5,263.51 L369,263.63 L369.5,263.92 L370,264.09 L370.5,263.82 L371,263.69 L371.5,263.93 L372,263.83 L372.5,263.47 L373,263.49 L373.5,263.79 L374,263.77 L374.5,263.64 L375,263.76 L375.5,264 L376,264.08 L376.5,263.84 L377,263.66 L377.5,263.7 L378,263.7 L378.5,263.75 L379,263.87 L379.5,263.81 L380,263.53 L380.5,263.41 L381,263.63 L381.5,263.96 L382,264.06 L382.5,264.04 L383,263.94 L383.5,263.72 L384,263.81 L384.5,263.98 L385,263.88 L385.5,263.97 L386,264.26 L386.5,264.13 L387,263.88 L387.5,264.02 L388,264.19 L388.5,264.07 L389,263.96 L389.5,264.2 L390,264.39 L390.5,264.14 L391,264.01 L391.5,264.07 L392,263.96 L392.5,263.99 L393,264.32 L393.5,264.54 L394,264.5 L394.5,264.25 L395,263.84 L395.5,263.76 L396,263.97 L396.5,264.16 L397,264.48 L397.5,264.54 L398,264.19 L398.5,264.13 L399,264.32 L399.5,264.33 L400,264.25 L400.5,264.22 L401,264.21 L401.5,264.3 L402,264.58 L402.5,264.66 L403,264.36 L403.5,264.07 L404,264.14 L404.5,264.28 L405,264.13 L405.5,264.09 L406,264.31 L406.5,264.44 L407,264.7 L407.5,265.02 L408,264.81 L408.5,264.59 L409,264.84 L409.5,264.89 L410,264.61 L410.5,264.49 L411,264.62 L411.5,264.65 L412,264.52 L412.5,264.65 L413,264.93 L413.5,264.73 L414,264.57 L414.5,264.85 L415,264.87 L415.5,264.69 L416,264.87 L416.5,265.21 L417,265.24 L417.5,265.09 L418,264.89 L418.5,264.64 L419,264.86 L419.5,265.31 L420,265.36 L420.5,265.32 L421,265.3 L421.5,265.15 L422,265.06 L422.5,265.14 L423,265.03 L423.5,264.74 L424,264.77 L424.5,265.03 L425,265.28 L425.5,265.51 L426,265.49 L426.5,265.28 L427,265.31 L427.5,265.46 L428,265.36 L428.5,265.34 L429,265.51 L429.5,265.5 L430,265.52 L430.5,265.49 L431,265.53 L431.5,265.83 L432,265.93 L432.5,265.61 L433,265.36 L433.5,265.51 L434,265.72 L434.5,265.68 L435,265.59 L435.5,265.77 L436,266.01 L436.5,266.06 L437,266.12 L437.5,265.89 L438,265.5 L438.5,265.52 L439,265.85 L439.5,266.09 L440,266.07 L440.5,266.06 L441,266.01 L441.5,265.95 L442,265.95 L442.5,265.87 L443,266.2 L443.5,266.58 L444,266.47 L444.5,266.33 L445,266.28 L445.5,266.18 L446,266.13 L446.5,266.24 L447,266.37 L447.5,266.43 L448,266.46 L448.5,266.63 L449,266.91 L449.5,266.87 L450,266.69 L450.5,266.68 L451,266.58 L451.5,266.59 L452,266.9 L452.5,267.01 L453,266.89 L453.5,266.94 L454,267.12 L454.5,267.17 L455,267.22 L455.5,267.24 L456,267.08 L456.5,267.07 L457,267.22 L457.5,267.19 L458,267.24 L458.5,267.34 L459,267.24 L459.5,267.3 L460,267.34 L460.5,267.18 L461,267.26 L461.5,267.52 L462,267.73 L462.5,267.8 L463,267.71 L463.5,267.56 L464,267.52 L464.5,267.79 L465,268.08 L465.5,268.18 L466,268.17 L466.5,268.14 L467,267.96 L467.5,267.79 L468,267.98 L468.5,268.03 L469,267.71 L469.5,267.81 L470,268.18 L470.5,268.34 L471,268.5 L471.5,268.52 L472,268.42 L472.5,268.38 L473,268.39 L473.5,268.48 L474,268.45 L474.5,268.55 L475,268.86 L475.5,268.89 L476,268.8 L476.5,268.8 L477,268.82 L477.5,268.9 L478,269.08 L478.5,269.23 L479,269.11 L479.5,268.97 L480,269.16 L480.5,269.56 L481,269.6 L481.5,269.28 L482,269.29 L482.5,269.41 L483,269.24 L483.5,269.42 L484,269.8 L484.5,269.93 L485,270.01 L485.5,270.08 L486,269.94 L486.5,269.84 L487,269.94 L487.5,269.86 L488,269.82 L488.5,269.91 L489,270.07 L489.5,270.33 L490,270.49 L490.5,270.6 L491,270.62 L491.5,270.52 L492,270.45 L492.5,270.4 L493,270.29 L493.5,270.47 L494,270.83 L494.5,271.03 L495,270.98 L495.5,270.91 L496,271.25 L496.5,271.69 L497,271.57 L497.5,271.29 L498,271.29 L498.5,271.37 L499,271.53 L499.5,271.9 L500,272.07 L500.5,271.99 L501,272.05 L501.5,272.26 L502,272.34 L502.5,272.33 L503,272.51 L503.5,272.64 L504,272.52 L504.5,272.45 L505,272.49 L505.5,272.65 L506,272.88 L506.5,272.99 L507,272.83 L507.5,272.76 L508,272.98 L508.5,273.13 L509,273.35 L509.5,273.82 L510,273.98 L510.5,273.72 L511,273.64 L511.5,273.73 L512,273.91 L512.5,274.16 L513,274.26 L513.5,274.49 L514,274.74 L514.5,274.89 L515,275.07 L515.5,275.05 L516,274.96 L516.5,275.14 L517,275.58 L517.5,275.99 L518,276.07 L518.5,276 L519,276.13 L519.5,276.24 L520,276.36 L520.5,276.61 L521,276.89 L521.5,277.32 L522,277.53 L522.5,277.46 L523,277.6 L523.5,277.83 L524,278.11 L524.5,278.57 L525,278.84 L525.5,278.92 L526,279.07 L526.5,279.25 L527,279.28 L527.5,279.52 L528,280.05 L528.5,280.37 L529,280.65 L529.5,281.01 L530,281.39 L530.5,281.84 L531,282.03 L531.5,282.24 L532,282.71 L532.5,283.29 L533,283.92 L533.5,284.49 L534,285.06 L534.5,285.54 L535,286.28 L535.5,287.37 L536,288.15 L536.5,288.87 L537,290 L537.5,291.51 L538,293.94 L538.5,297.58 L538.5,323.78 L538,323.01 L537.5,321.5 L537,318.18 L536.5,313.44 L536,309.84 L535.5,307.7 L535,305.32 L534.5,303.15 L534,301.83 L533.5,300.86 L533,300.14 L532.5,299.35 L532,298.33 L531.5,297.49 L531,297.12 L530.5,297.16 L530,296.59 L529.5,295.42 L529,294.78 L528.5,294.85 L528,294.77 L527.5,293.92 L527,293.13 L526.5,292.66 L526,292.34 L525.5,292.17 L525,292.07 L524.5,292 L524,291.54 L523.5,290.72 L523,289.73 L522.5,288.84 L522,288.45 L521.5,288.4 L521,288.4 L520.5,288.4 L520,288.4 L519.5,288.4 L519,288.4 L518.5,288.4 L518,288.4 L517.5,288.38 L517,288.35 L516.5,288.31 L516,288.15 L515.5,287.96 L515,287.87 L514.5,287.55 L514,287.31 L513.5,287.43 L513,287.37 L512.5,287.19 L512,287.13 L511.5,286.98 L511,286.9 L510.5,286.83 L510,286.46 L509.5,286.54 L509,286.88 L508.5,286.34 L508,285.74 L507.5,285.77 L507,285.78 L506.5,285.56 L506,285.22 L505.5,284.9 L505,284.73 L504.5,284.85 L504,285.06 L503.5,285.53 L503,285.9 L502.5,285.13 L502,284.23 L501.5,284.17 L501,284.66 L500.5,284.78 L500,284.21 L499.5,283.86 L499,283.69 L498.5,283.5 L498,283.51 L497.5,283.47 L497,283.16 L496.5,283.75 L496,284.81 L495.5,284.29 L495,283.21 L494.5,283.01 L494,283.03 L493.5,282.79 L493,282.43 L492.5,282.29 L492,282.33 L491.5,282.35 L491,282.71 L490.5,283.32 L490,283.15 L489.5,282.37 L489,281.84 L488.5,281.65 L488,281.53 L487.5,281.43 L487,281.58 L486.5,281.81 L486,281.86 L485.5,281.69 L485,281.36 L484.5,281.23 L484,281.28 L483.5,281.29 L483,281.17 L482.5,280.89 L482,280.65 L481.5,280.83 L481,281.4 L480.5,281.37 L480,280.86 L479.5,280.65 L479,280.79 L478.5,280.98 L478,280.68 L477.5,280.42 L477,280.55 L476.5,280.67 L476,280.41 L475.5,279.89 L475,279.64 L474.5,281.81 L474,284.04 L473.5,281.93 L473,279.82 L472.5,280.48 L472,281.09 L471.5,280.44 L471,279.6 L470.5,279.28 L470,279.41 L469.5,279.7 L469,279.54 L468.5,279.34 L468,279.28 L467.5,279.24 L467,280.61 L466.5,281.84 L466,280.27 L465.5,278.86 L465,279.03 L464.5,279.82 L464,280.32 L463.5,279.32 L463,278.53 L462.5,278.56 L462,278.62 L461.5,278.51 L461,278.27 L460.5,278.22 L460,278.19 L459.5,278.15 L459,278.57 L458.5,278.93 L458,278.5 L457.5,278.37 L457,278.73 L456.5,278.4 L456,277.88 L455.5,277.75 L455,277.67 L454.5,277.63 L454,277.79 L453.5,277.87 L453,277.78 L452.5,277.92 L452,278.1 L451.5,278.41 L451,278.78 L450.5,278.72 L450,278.45 L449.5,277.87 L449,277.44 L448.5,277.46 L448,277.23 L447.5,277.01 L447,277.03 L446.5,276.96 L446,277.16 L445.5,277.51 L445,277.24 L444.5,276.83 L444,276.7 L443.5,276.8 L443,277.08 L442.5,278.46 L442,279.64 L441.5,278.25 L441,276.9 L440.5,276.66 L440,276.51 L439.5,276.64 L439,276.6 L438.5,276.89 L438,277.21 L437.5,276.57 L437,276.15 L436.5,276.41 L436,276.67 L435.5,276.75 L435,276.51 L434.5,276.45 L434,276.65 L433.5,276.67 L433,276.52 L432.5,276.29 L432,276.23 L431.5,276.73 L431,276.88 L430.5,276.12 L430,275.7 L429.5,275.67 L429,275.87 L428.5,276.5 L428,276.66 L427.5,276.33 L427,276.36 L426.5,276.5 L426,276.04 L425.5,275.55 L425,275.63 L424.5,275.78 L424,275.4 L423.5,275.06 L423,275.47 L422.5,275.88 L422,276.18 L421.5,276.62 L421,276.07 L420.5,275.35 L420,275.5 L419.5,275.48 L419,275.06 L418.5,274.85 L418,274.84 L417.5,275.01 L417,275.74 L416.5,276.02 L416,275.5 L415.5,275.48 L415,275.62 L414.5,275.33 L414,275.17 L413.5,275.25 L413,275.34 L412.5,275.59 L412,275.73 L411.5,275.11 L411,274.45 L410.5,274.61 L410,274.92 L409.5,274.6 L409,274.22 L408.5,274.47 L408,274.86 L407.5,274.75 L407,274.44 L406.5,274.39 L406,274.78 L405.5,275.14 L405,274.99 L404.5,274.65 L404,274.4 L403.5,274.33 L403,274.32 L402.5,274.23 L402,274.12 L401.5,274.1 L401,274.43 L400.5,274.63 L400,274.33 L399.5,274.14 L399,274.24 L398.5,274.33 L398,274.27 L397.5,274.17 L397,274.2 L396.5,274.78 L396,275.18 L395.5,274.62 L395,274.27 L394.5,274.1 L394,274 L393.5,274.43 L393,274.35 L392.5,273.66 L392,273.43 L391.5,273.44 L391,273.3 L390.5,273.43 L390,273.61 L389.5,273.42 L389,273.72 L388.5,274.24 L388,273.87 L387.5,273.69 L387,274.08 L386.5,274 L386,273.75 L385.5,273.54 L385,273.2 L384.5,273.03 L384,273.12 L383.5,273.22 L383,273.37 L382.5,273.77 L382,273.79 L381.5,273.55 L381,273.33 L380.5,273.03 L380,272.96 L379.5,273.24 L379,273.5 L378.5,273.2 L378,273.13 L377.5,274.03 L377,274.27 L376.5,273.35 L376,273.02 L375.5,273.24 L375,273.37 L374.5,273.56 L374,273.45 L373.5,273.27 L373,273.21 L372.5,273.22 L372,273.15 L371.5,272.87 L371,272.9 L370.5,273.11 L370,273.16 L369.5,273.76 L369,274.11 L368.5,273.36 L368,273.18 L367.5,273.44 L367,273.09 L366.5,273.13 L366,273.22 L365.5,272.97 L365,273.08 L364.5,273.08 L364,273.11 L363.5,273.47 L363,273.22 L362.5,272.7 L362,272.83 L361.5,273.32 L361,273.34 L360.5,273.57 L360,274.12 L359.5,273.66 L359,272.71 L358.5,272.5 L358,272.61 L357.5,272.7 L357,272.84 L356.5,273.01 L356,273.56 L355.5,273.74 L355,273.34 L354.5,273.75 L354,273.99 L353.5,273.14 L353,272.75 L352.5,272.85 L352,272.73 L351.5,272.79 L351,273.11 L350.5,273.1 L350,272.66 L349.5,272.79 L349,273.24 L348.5,273.55 L348,273.78 L347.5,273.14 L347,272.72 L346.5,273.07 L346,273.15 L345.5,274.18 L345,275.03 L344.5,274.71 L344,274.84 L343.5,274.1 L343,272.96 L342.5,272.63 L342,272.49 L341.5,272.5 L341,272.58 L340.5,272.95 L340,273.37 L339.5,273.27 L339,272.86 L338.5,273.31 L338,273.89 L337.5,273.14 L337,272.62 L336.5,272.74 L336,272.68 L335.5,272.76 L335,272.57 L334.5,272.46 L334,272.89 L333.5,273.14 L333,272.98 L332.5,272.99 L332,273.2 L331.5,272.89 L331,272.63 L330.5,272.84 L330,272.81 L329.5,272.88 L329,273.03 L328.5,272.75Z" fill="#0072BD"/>
<line x1="537.7" y1="297.84" x2="537.7" y2="337.82" stroke="#4f95cf" stroke-width="1"/>
<rect x="328.5" y="207" width="209.9" height="145.35" fill="none" stroke="#8a8a8a" stroke-width="1.1"/>
<line x1="328.5" y1="223.72" x2="328.5" y2="266.16" stroke="#5590bb" stroke-width="1.1"/>
<path d="M328.5,352.35v-2.1M328.5,207v2.1M328.5,207h2.1M538.4,207h-2.1M380.98,352.35v-2.1M380.98,207v2.1M328.5,243.34h2.1M538.4,243.34h-2.1M433.45,352.35v-2.1M433.45,207v2.1M328.5,279.68h2.1M538.4,279.68h-2.1M485.92,352.35v-2.1M485.92,207v2.1M328.5,316.01h2.1M538.4,316.01h-2.1M538.4,352.35v-2.1M538.4,207v2.1M328.5,352.35h2.1M538.4,352.35h-2.1" stroke="#8a8a8a" stroke-width="1" fill="none"/>
<text x="328.5" y="363.55" text-anchor="middle" class="tk">0</text>
<text x="325.5" y="209.5" text-anchor="end" class="tk">0</text>
<text x="380.98" y="363.55" text-anchor="middle" class="tk">100</text>
<text x="325.5" y="245.84" text-anchor="end" class="tk"><tspan class="mn" dy="1.5">&#8722;</tspan><tspan dx="0.3" dy="-1.5">50</tspan></text>
<text x="433.45" y="363.55" text-anchor="middle" class="tk">200</text>
<text x="325.5" y="282.18" text-anchor="end" class="tk"><tspan class="mn" dy="1.5">&#8722;</tspan><tspan dx="0.3" dy="-1.5">100</tspan></text>
<text x="485.92" y="363.55" text-anchor="middle" class="tk">300</text>
<text x="325.5" y="318.51" text-anchor="end" class="tk"><tspan class="mn" dy="1.5">&#8722;</tspan><tspan dx="0.3" dy="-1.5">150</tspan></text>
<text x="538.4" y="363.55" text-anchor="middle" class="tk">400</text>
<text x="325.5" y="354.85" text-anchor="end" class="tk"><tspan class="mn" dy="1.5">&#8722;</tspan><tspan dx="0.3" dy="-1.5">200</tspan></text>
<text x="433.45" y="376.55" text-anchor="middle" class="lb">Frequency (MHz)</text>
<text transform="translate(300,279.68) rotate(-90)" text-anchor="middle" class="lb">PSD (dB/Hz)</text>
<text x="433.45" y="203.1" text-anchor="middle" class="lb">(c. 25%)</text>
<circle cx="4.6" cy="295.2" r="0.6" fill="#444"/>
</svg></body></html>
